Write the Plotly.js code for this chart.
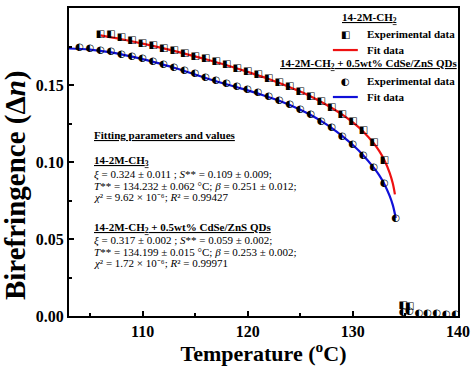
<!DOCTYPE html>
<html><head><meta charset="utf-8">
<script src="https://cdn.plot.ly/plotly-3.0.1.min.js"></script>
<style>html,body{margin:0;padding:0;background:#fff}#c{width:474px;height:366px}</style>
</head><body><div id="c"></div>
<script>
// Experimental data, 14-2M-CH2 (half-filled squares)
const redT = [106,107,108,109,110,111,112,113,114,115,116,117,118,119,120,121,122,123,124,125,126,127,128,129,130,131,132,133];
const redN = [0.1828,0.1826,0.1808,0.1790,0.1772,0.1755,0.1740,0.1722,0.1706,0.1688,0.1670,0.1650,0.1630,0.1610,0.1588,0.1566,0.1542,0.1517,0.1490,0.1460,0.1428,0.1393,0.1352,0.1307,0.1260,0.1204,0.1128,0.1008];
const redIsoT = [134.8,135.4];
const redIsoN = [0.0068,0.0060];
// Fit, 14-2M-CH2
const redFitT = [106,108,110,112,114,116,118,120,122,124,125,126,127,128,129,130,131,132,132.5,133,133.5,133.8,134.0];
const redFitN = [0.1822,0.1797,0.1769,0.1738,0.1704,0.1667,0.1628,0.1585,0.1539,0.1486,0.1457,0.1425,0.1390,0.1351,0.1308,0.1257,0.1197,0.1120,0.1072,0.1012,0.0930,0.0860,0.0790];
// Experimental data, + 0.5wt% CdSe/ZnS QDs (half-filled circles)
const blueT = [104,105,106,107,108,109,110,111,112,113,114,115,116,117,118,119,120,121,122,123,124,125,126,127,128,129,130,131,132,133,134.08];
const blueN = [0.1745,0.1737,0.1727,0.1715,0.1701,0.1686,0.1670,0.1653,0.1635,0.1616,0.1594,0.1572,0.1550,0.1529,0.1510,0.1493,0.1472,0.1450,0.1426,0.1402,0.1374,0.1344,0.1308,0.1265,0.1222,0.1168,0.1112,0.1044,0.0964,0.0858,0.0636];
const blueIsoT = [134.8,135.4,136.3,137.1,138.0,138.9,139.8];
const blueIsoN = [0.0025,0.0030,0.0016,0.0015,0.0014,0.0013,0.0013];
// Fit, + QDs
const blueFitT = [103,105,107,109,111,113,115,117,119,121,123,125,126,127,128,129,130,131,132,132.5,133,133.5,133.8,134.08];
const blueFitN = [0.1737,0.1730,0.1712,0.1684,0.1650,0.1612,0.1568,0.1524,0.1485,0.1444,0.1398,0.1340,0.1305,0.1265,0.1220,0.1168,0.1110,0.1043,0.0962,0.0915,0.0856,0.0780,0.0720,0.0636];

const xTicks = [110,120,130,140];
const yTicks = [0.00,0.05,0.10,0.15,0.20];

const SQ = '\u25E7', CI = '\u25D0';
const serif = 'Liberation Serif, Times New Roman, serif';
const glyph = 'DejaVu Sans';

const rT = redT.concat(redIsoT), rN = redN.concat(redIsoN);
const bT = blueT.concat(blueIsoT), bN = blueN.concat(blueIsoN);

const traces = [
  {x: redFitT, y: redFitN, mode:'lines', line:{color:'#ee1111', width:2.2, shape:'spline'}, showlegend:false, hoverinfo:'skip'},
  {x: blueFitT, y: blueFitN, mode:'lines', line:{color:'#1010d8', width:2.2, shape:'spline'}, showlegend:false, hoverinfo:'skip'},
  {x: bT, y: bN, mode:'text', text: bT.map(()=>CI), textposition:'middle center', textfont:{family:glyph, size:10, color:'#000'}, showlegend:false, cliponaxis:false},
  {x: rT, y: rN, mode:'text', text: rT.map(()=>SQ), textposition:'middle center', textfont:{family:glyph, size:10, color:'#000'}, showlegend:false, cliponaxis:false}
];

function A(x, y, text, opts){
  return Object.assign({x:x, y:y, xref:'x', yref:'y', text:text, showarrow:false, xanchor:'left', yanchor:'middle',
    font:{family:serif, size:11, color:'#000'}}, opts||{});
}
const annotations = [
  A(105.19, 0.1175, '<b><u>Fitting parameters and values</u></b>'),
  A(105.19, 0.1006, '<b><u>14-2M-CH<sub>3</sub></u></b>'),
  A(105.19, 0.0918, '<i>ξ</i> = 0.324 ± 0.011 ; <i>S</i>** = 0.109 ± 0.009;'),
  A(105.19, 0.0845, '<i>T</i>** = 134.232 ± 0.062 °C; <i>β</i> = 0.251 ± 0.012;'),
  A(105.19, 0.0770, '<i>χ</i>² = 9.62 × 10⁻⁶; <i>R</i>² = 0.99427'),
  A(105.19, 0.0571, '<b><u>14-2M-CH<sub>2</sub> + 0.5wt% CdSe/ZnS QDs</u></b>'),
  A(105.19, 0.0489, '<i>ξ</i> = 0.317 ± 0.002 ; <i>S</i>** = 0.059 ± 0.002;'),
  A(105.19, 0.0416, '<i>T</i>** = 134.199 ± 0.015 °C; <i>β</i> = 0.253 ± 0.002;'),
  A(105.19, 0.0341, '<i>χ</i>² = 1.72 × 10⁻⁶; <i>R</i>² = 0.99971'),
  // legend
  A(131.61, 0.1935, '<b><u>14-2M-CH<sub>2</sub></u></b>', {xanchor:'center'}),
  A(129.33, 0.1829, SQ, {xanchor:'center', font:{family:glyph, size:10, color:'#000'}}),
  A(131.14, 0.1829, '<b>Experimental data</b>'),
  A(131.14, 0.1727, '<b>Fit data</b>'),
  A(131.52, 0.1636, '<b><u>14-2M-CH<sub>2</sub> + 0.5wt% CdSe/ZnS QDs</u></b>', {xanchor:'center'}),
  A(129.33, 0.1526, CI, {xanchor:'center', font:{family:glyph, size:10, color:'#000'}}),
  A(131.14, 0.1526, '<b>Experimental data</b>'),
  A(131.14, 0.1422, '<b>Fit data</b>'),
  // y axis title (placed like the reference, slightly below the plot centre)
  {xref:'paper', yref:'paper', x:-0.139, y:0.425, xanchor:'center', yanchor:'middle', textangle:-90, showarrow:false,
   text:'<b>Birefringence (Δ<i>n</i>)</b>', font:{family:serif, size:29, color:'#000'}}
];
const shapes = [
  {type:'line', xref:'x', yref:'y', x0:128.10, x1:130.47, y0:0.1727, y1:0.1727, line:{color:'#ee1111', width:2.2}},
  {type:'line', xref:'x', yref:'y', x0:128.10, x1:130.47, y0:0.1422, y1:0.1422, line:{color:'#1010d8', width:2.2}}
];

const axisFont = {family:serif, size:16, color:'#000', weight:'bold'};
const layout = {
  width:474, height:366,
  margin:{l:69, r:16, t:8, b:50},
  paper_bgcolor:'#fff', plot_bgcolor:'#fff',
  showlegend:false,
  xaxis:{range:[103,140], tickvals:xTicks, ticktext:xTicks.map(String), ticks:'inside', ticklen:5, tickwidth:2, tickcolor:'#000',
    minor:{dtick:5, tick0:105, ticks:'inside', ticklen:3, tickwidth:2, tickcolor:'#000'},
    showline:true, linewidth:2, linecolor:'#000', mirror:true, showgrid:false, zeroline:false,
    tickfont:axisFont,
    title:{text:'<b>Temperature (<sup>o</sup>C)</b>', font:{family:serif, size:22, color:'#000'}, standoff:2}},
  yaxis:{range:[0,0.20], tickvals:yTicks, ticktext:yTicks.map(v=>v.toFixed(2)), ticks:'inside', ticklen:5, tickwidth:2, tickcolor:'#000',
    minor:{dtick:0.025, tick0:0, ticks:'inside', ticklen:3, tickwidth:2, tickcolor:'#000'},
    showline:true, linewidth:2, linecolor:'#000', mirror:true, showgrid:false, zeroline:false,
    tickfont:axisFont},
  annotations: annotations,
  shapes: shapes
};
Plotly.newPlot('c', traces, layout, {staticPlot:true, displayModeBar:false});
</script>
</body></html>
